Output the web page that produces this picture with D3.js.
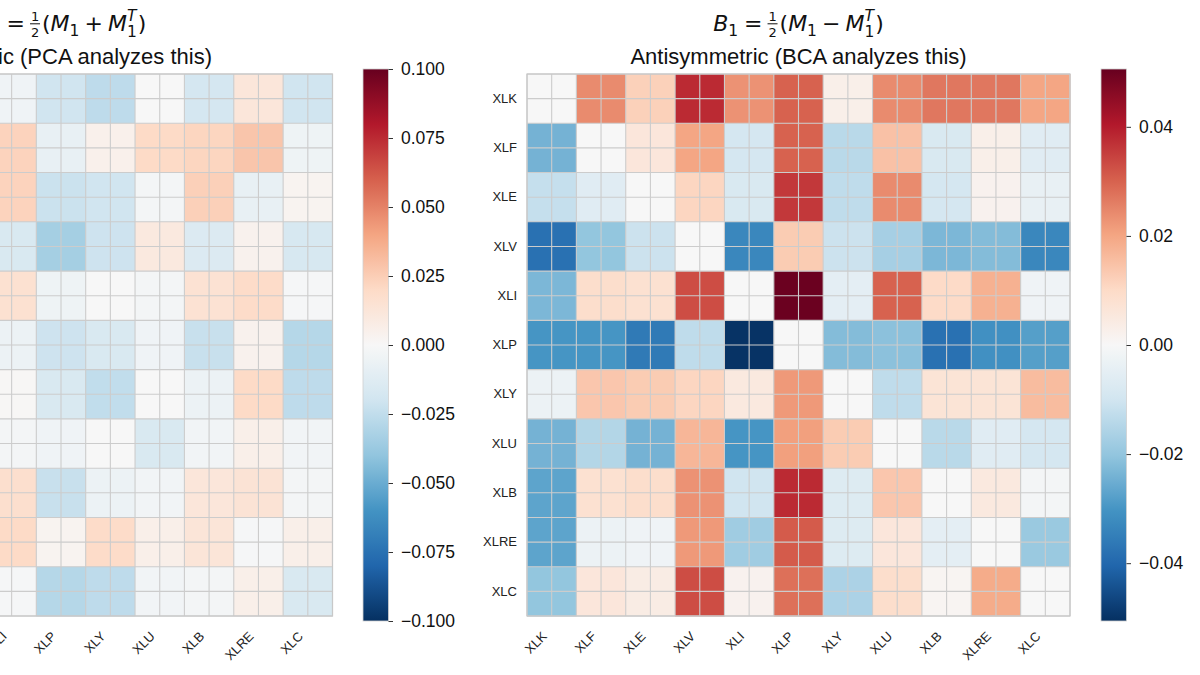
<!DOCTYPE html>
<html><head><meta charset="utf-8">
<script src="https://cdn.jsdelivr.net/npm/d3@7"></script>
<style>body{margin:0;background:#fff} svg{display:block}</style>
</head><body>
<svg id="chart" width="1200" height="675"></svg>
<script>
// ---------- data ----------
const tickers = ["XLK","XLF","XLE","XLV","XLI","XLP","XLY","XLU","XLB","XLRE","XLC"];

// Symmetric part (PCA) – rows/cols in ticker order
const symValues = [
  [ 0.012,-0.004, 0.010,-0.012,-0.004,-0.020,-0.026, 0.000,-0.018, 0.012,-0.020],
  [-0.004, 0.015, 0.008,-0.006, 0.023,-0.008, 0.005, 0.020, 0.022, 0.028,-0.005],
  [ 0.010, 0.008, 0.020,-0.010, 0.023,-0.022,-0.020,-0.002, 0.024,-0.008, 0.003],
  [-0.012,-0.006,-0.010, 0.010,-0.016,-0.034,-0.021, 0.010,-0.014, 0.004,-0.017],
  [-0.004, 0.023, 0.023,-0.016, 0.016,-0.005, 0.000,-0.002, 0.015, 0.019,-0.001],
  [-0.020,-0.008,-0.022,-0.034,-0.006,-0.021,-0.016,-0.004,-0.023, 0.004,-0.029],
  [-0.026, 0.005,-0.020,-0.021, 0.001,-0.016,-0.025, 0.000,-0.006, 0.020,-0.026],
  [ 0.000, 0.020,-0.002, 0.010,-0.002,-0.004, 0.000,-0.016,-0.003, 0.006,-0.003],
  [-0.018, 0.022, 0.024,-0.014, 0.017,-0.023,-0.006,-0.003, 0.012, 0.014,-0.002],
  [ 0.012, 0.028,-0.008, 0.004, 0.020, 0.003, 0.019, 0.006, 0.013,-0.001, 0.006],
  [-0.020,-0.005, 0.003,-0.017,-0.001,-0.029,-0.026,-0.003,-0.002, 0.006,-0.016]
];

// Antisymmetric part (BCA)
const antiValues = [
  [ 0.000, 0.024, 0.012, 0.038, 0.023, 0.030, 0.003, 0.024, 0.027, 0.027, 0.020],
  [-0.024, 0.000, 0.006, 0.020,-0.009, 0.030,-0.014, 0.015,-0.008, 0.003,-0.006],
  [-0.012,-0.006, 0.000, 0.011,-0.008, 0.036,-0.013, 0.024,-0.009, 0.002,-0.004],
  [-0.038,-0.020,-0.011, 0.000,-0.033, 0.013,-0.011,-0.017,-0.023,-0.022,-0.033],
  [-0.023, 0.009, 0.008, 0.033, 0.000, 0.050,-0.005, 0.030, 0.010, 0.018,-0.002],
  [-0.030,-0.030,-0.036,-0.013,-0.050, 0.000,-0.022,-0.021,-0.038,-0.031,-0.028],
  [-0.003, 0.014, 0.013, 0.011, 0.005, 0.022, 0.000,-0.013, 0.007, 0.007, 0.016],
  [-0.024,-0.015,-0.024, 0.017,-0.030, 0.021, 0.013, 0.000,-0.014,-0.006,-0.009],
  [-0.027, 0.008, 0.009, 0.023,-0.010, 0.038,-0.007, 0.014, 0.000, 0.005,-0.001],
  [-0.027,-0.003,-0.002, 0.022,-0.018, 0.031,-0.007, 0.006,-0.005, 0.000,-0.019],
  [-0.020, 0.006, 0.004, 0.033, 0.002, 0.028,-0.016, 0.009, 0.001, 0.019, 0.000]
];

const symLimit = 0.1;
const antiLimit = 0.0506;
const symTicks = [0.1, 0.075, 0.05, 0.025, 0, -0.025, -0.05, -0.075, -0.1];
const antiTicks = [0.04, 0.02, 0, -0.02, -0.04];
const symTickLabels = ["0.100","0.075","0.050","0.025","0.000","\u22120.025","\u22120.050","\u22120.075","\u22120.100"];
const antiTickLabels = ["0.04","0.02","0.00","\u22120.02","\u22120.04"];

// RdBu_r colormap stops (blue -> red)
const rdbuStops = ["#053061","#2166ac","#4393c3","#92c5de","#d1e5f0","#f7f7f7",
                   "#fddbc7","#f4a582","#d6604d","#b2182b","#67001f"];

// ---------- drawing ----------
const svg = d3.select("#chart");
const SANS = "'Liberation Sans', Arial, Helvetica, sans-serif";
const MATH = "'DejaVu Sans', sans-serif";

function colorScale(lim) {
  return d3.scaleLinear()
    .domain(d3.range(11).map(i => -lim + i * 2 * lim / 10))
    .range(rdbuStops)
    .interpolate(d3.interpolateRgb)
    .clamp(true);
}

function drawMath(cx, by, lead, op) {
  const fs = 22, ss = 15.5;
  const g = svg.append("g");
  let x = 0;
  function put(t, o = {}) {
    const el = g.append("text").attr("x", x).attr("y", o.dy || 0)
      .attr("font-family", MATH).attr("font-size", o.size || fs)
      .attr("font-style", o.italic ? "italic" : "normal")
      .attr("fill", "#111").text(t);
    const w = el.node().getComputedTextLength();
    if (!o.noAdvance) x += w;
    return w;
  }
  put(lead, {italic: true});
  put("1", {size: ss, dy: 5});
  x += 6; put("="); x += 5;
  const fw = 10;
  g.append("text").attr("x", x + fw / 2).attr("y", -10).attr("text-anchor", "middle")
    .attr("font-family", MATH).attr("font-size", 13).attr("fill", "#111").text("1");
  g.append("text").attr("x", x + fw / 2).attr("y", 5.5).attr("text-anchor", "middle")
    .attr("font-family", MATH).attr("font-size", 13).attr("fill", "#111").text("2");
  g.append("line").attr("x1", x).attr("x2", x + fw).attr("y1", -7.2).attr("y2", -7.2)
    .attr("stroke", "#111").attr("stroke-width", 1);
  x += fw + 2;
  put("(");
  put("M", {italic: true});
  put("1", {size: ss, dy: 5});
  x += 5; put(op); x += 5;
  put("M", {italic: true});
  const xs = x;
  const wT = put("T", {size: ss, dy: -10.5, italic: true, noAdvance: true});
  const w1 = put("1", {size: ss, dy: 6, noAdvance: true});
  x = xs + Math.max(wT, w1) + 1;
  put(")");
  g.attr("transform", `translate(${cx - x / 2},${by})`);
}

function drawPanel(cfg) {
  const {values, x0, x1, y0, y1, lim, title1lead, title1op, title2,
         cbx, ticks, tickLabels} = cfg;
  const color = colorScale(lim);
  const x = d3.scaleBand().domain(tickers).range([x0, x1]);
  const y = d3.scaleBand().domain(tickers).range([y0, y1]);
  const bw = x.bandwidth(), bh = y.bandwidth();
  const g = svg.append("g");

  const cells = [];
  values.forEach((row, i) => row.forEach((v, j) => cells.push({r: tickers[i], c: tickers[j], v})));
  g.selectAll("rect.cell").data(cells).join("rect")
    .attr("class", "cell")
    .attr("x", d => x(d.c)).attr("y", d => y(d.r))
    .attr("width", bw + 0.4).attr("height", bh + 0.4)
    .attr("fill", d => color(d.v));

  // grid lines at every half cell
  const gridX = d3.range(0, 2 * tickers.length + 1).map(k => x0 + k * bw / 2);
  const gridY = d3.range(0, 2 * tickers.length + 1).map(k => y0 + k * bh / 2);
  g.selectAll("line.gx").data(gridX).join("line")
    .attr("x1", d => d).attr("x2", d => d).attr("y1", y0).attr("y2", y1)
    .attr("stroke", "#cccccc").attr("stroke-width", 1.1);
  g.selectAll("line.gy").data(gridY).join("line")
    .attr("y1", d => d).attr("y2", d => d).attr("x1", x0).attr("x2", x1)
    .attr("stroke", "#cccccc").attr("stroke-width", 1.1);
  g.append("rect").attr("x", x0).attr("y", y0).attr("width", x1 - x0).attr("height", y1 - y0)
    .attr("fill", "none").attr("stroke", "#c8c8c8").attr("stroke-width", 1.2);

  // y axis
  const ya = g.append("g").attr("transform", `translate(${x0},0)`)
    .call(d3.axisLeft(y).tickSize(0).tickPadding(10));
  ya.select(".domain").remove();
  ya.selectAll("text").attr("font-family", SANS).attr("font-size", 13).attr("fill", "#222");

  // x axis
  const xa = g.append("g").attr("transform", `translate(0,${y1})`)
    .call(d3.axisBottom(x).tickSize(0));
  xa.select(".domain").remove();
  xa.selectAll("text")
    .attr("font-family", SANS).attr("font-size", 13).attr("fill", "#222")
    .attr("x", 0).attr("y", 0).attr("dy", 0)
    .attr("text-anchor", "end")
    .attr("transform", "translate(-4,21) rotate(-45)");

  // titles
  const cx = (x0 + x1) / 2;
  drawMath(cx, 31, title1lead, title1op);
  svg.append("text").attr("x", cx).attr("y", 64).attr("text-anchor", "middle")
    .attr("font-family", SANS).attr("font-size", 22).attr("fill", "#111").text(title2);

  // colorbar
  const cbTop = 69, cbBot = 621, cbW = 25.5;
  const cy = d3.scaleLinear().domain([lim, -lim]).range([cbTop, cbBot]);
  const gid = "grad" + Math.round(cbx);
  const grad = svg.append("defs").append("linearGradient").attr("id", gid)
    .attr("x1", 0).attr("y1", 1).attr("x2", 0).attr("y2", 0);
  d3.range(0, 41).forEach(k => {
    const t = k / 40;
    grad.append("stop").attr("offset", t).attr("stop-color", color(-lim + t * 2 * lim));
  });
  svg.append("rect").attr("x", cbx).attr("y", cbTop).attr("width", cbW).attr("height", cbBot - cbTop)
    .attr("fill", `url(#${gid})`).attr("stroke", "#d0d0d0").attr("stroke-width", 0.8);
  const ca = svg.append("g").attr("transform", `translate(${cbx + cbW},0)`)
    .call(d3.axisRight(cy).tickValues(ticks).tickSize(4.5).tickPadding(8)
      .tickFormat((d, i) => tickLabels[i]));
  ca.select(".domain").remove();
  ca.selectAll("line").attr("stroke", "#333").attr("stroke-width", 1);
  ca.selectAll("text").attr("font-family", SANS).attr("font-size", 17.5).attr("fill", "#111");
}

drawPanel({
  values: symValues, x0: -210.5, x1: 332.5, y0: 74, y1: 616, lim: symLimit,
  title1lead: "A", title1op: "+", title2: "Symmetric (PCA analyzes this)",
  cbx: 363, ticks: symTicks, tickLabels: symTickLabels
});
drawPanel({
  values: antiValues, x0: 527, x1: 1070, y0: 74, y1: 616, lim: antiLimit,
  title1lead: "B", title1op: "\u2212", title2: "Antisymmetric (BCA analyzes this)",
  cbx: 1101, ticks: antiTicks, tickLabels: antiTickLabels
});
</script>
</body></html>
